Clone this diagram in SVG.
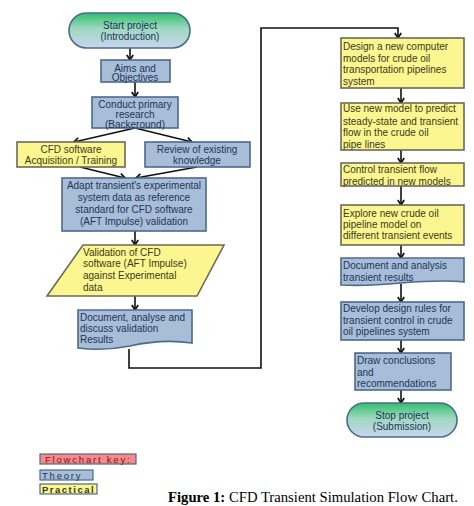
<svg xmlns="http://www.w3.org/2000/svg" width="474" height="506" viewBox="0 0 474 506">
<defs>
<linearGradient id="term" x1="0" y1="0" x2="0" y2="1">
<stop offset="0" stop-color="#2fbf6c"/>
<stop offset="0.45" stop-color="#9fd8c0"/>
<stop offset="1" stop-color="#c8d6ee"/>
</linearGradient>
<marker id="ah" markerWidth="8" markerHeight="8" refX="6.5" refY="4" orient="auto" markerUnits="userSpaceOnUse" viewBox="0 0 8 8">
<path d="M1.5,0.8 L6.5,4 L1.5,7.2" fill="none" stroke="#111" stroke-width="1.7"/>
</marker>
</defs>
<style>
.th{fill:#a8bdd8;stroke:#4d6a8e;stroke-width:1.6}
.pr{fill:#fbf68f;stroke:#6a6a5a;stroke-width:1.6}
.tm{fill:url(#term);stroke:#4d6a8e;stroke-width:1.6}
text{font-family:"Liberation Sans",Arial,sans-serif;font-size:10px}
.tt{fill:#1d3558}
.tp{fill:#3b3a1a}
.c{text-anchor:middle}
.con{fill:none;stroke:#111;stroke-width:1.6}
.lg{font-size:9.5px;letter-spacing:1.8px}
.lgp{font-size:9.5px;letter-spacing:1.5px;font-weight:bold}
.cap{font-family:"Liberation Serif","Times New Roman",serif;font-size:14.7px;fill:#000}
</style>
<rect width="474" height="506" fill="#fff"/>

<g id="connectors">
<path class="con" d="M130,48 V60" marker-end="url(#ah)"/>
<path class="con" d="M135,82 V97" marker-end="url(#ah)"/>
<path class="con" d="M135,128 L74,142" marker-end="url(#ah)"/>
<path class="con" d="M135,128 L192,142" marker-end="url(#ah)"/>
<path class="con" d="M80,167 L125,178" marker-end="url(#ah)"/>
<path class="con" d="M197,167 L136,178" marker-end="url(#ah)"/>
<path class="con" d="M135,231 V245" marker-end="url(#ah)"/>
<path class="con" d="M135,296 V310" marker-end="url(#ah)"/>
<path class="con" d="M129,349 V368 H261 V28 H398 V38" marker-end="url(#ah)"/>
<path class="con" d="M401,88 V103" marker-end="url(#ah)"/>
<path class="con" d="M401,150 V163" marker-end="url(#ah)"/>
<path class="con" d="M401,186 V205" marker-end="url(#ah)"/>
<path class="con" d="M401,245 V258" marker-end="url(#ah)"/>
<path class="con" d="M401,284 V302" marker-end="url(#ah)"/>
<path class="con" d="M401,340 V353" marker-end="url(#ah)"/>
<path class="con" d="M401,390 V403" marker-end="url(#ah)"/>
</g>

<g id="start">
<rect class="tm" x="69" y="13" width="121" height="35" rx="17.5"/>
<text class="tt c" x="130" y="28.5">Start project</text>
<text class="tt c" x="130" y="39.5">(Introduction)</text>
</g>
<g id="aims">
<rect class="th" x="101" y="60" width="69" height="22"/>
<text class="tt c" x="135" y="71.5">Aims and</text>
<text class="tt c" x="135" y="81">Objectives</text>
</g>
<g id="conduct">
<rect class="th" x="92" y="97" width="86" height="31"/>
<text class="tt c" x="135" y="107.5">Conduct primary</text>
<text class="tt c" x="135" y="117.5">research</text>
<text class="tt c" x="135" y="128">(Backeround)</text>
</g>
<g id="cfd">
<rect class="pr" x="17" y="142" width="108" height="25"/>
<text class="tp c" x="71" y="152.5">CFD software</text>
<text class="tp c" x="71" y="163.5">Acquisition / Training</text>
</g>
<g id="review">
<rect class="th" x="145" y="142" width="105" height="25"/>
<text class="tt c" x="197" y="152.5">Review of existing</text>
<text class="tt c" x="197" y="163.5">knowledge</text>
</g>
<g id="adapt">
<rect class="th" x="62" y="178" width="144" height="53"/>
<text class="tt c" x="134" y="188.5">Adapt transient's experimental</text>
<text class="tt c" x="134" y="201">system data as reference</text>
<text class="tt c" x="134" y="213">standard for CFD software</text>
<text class="tt c" x="134" y="225">(AFT Impulse) validation</text>
</g>
<g id="validation">
<polygon class="pr" points="83,245 224,245 197,296 47,296"/>
<text class="tp" x="83" y="255.5">Validation of CFD</text>
<text class="tp" x="83" y="267">software (AFT Impulse)</text>
<text class="tp" x="83" y="279">against Experimental</text>
<text class="tp" x="83" y="290.5">data</text>
</g>
<g id="document1">
<path class="th" d="M78,310 H192 V343 C172,340 152,341 130,346 C110,350 94,350 78,348 Z"/>
<text class="tt" x="80" y="320.5">Document, analyse and</text>
<text class="tt" x="80" y="331.5">discuss validation</text>
<text class="tt" x="80" y="343">Results</text>
</g>

<g id="design">
<rect class="pr" x="341" y="38" width="123" height="50"/>
<text class="tp" x="343" y="49.5">Design a new computer</text>
<text class="tp" x="343" y="61.5">models for crude oil</text>
<text class="tp" x="343" y="72.5">transportation pipelines</text>
<text class="tp" x="343" y="84.5">system</text>
</g>
<g id="usemodel">
<rect class="pr" x="341" y="103" width="123" height="47"/>
<text class="tp" x="343" y="111.5">Use new model to predict</text>
<text class="tp" x="343" y="124.5">steady-state and transient</text>
<text class="tp" x="343" y="135.5">flow in the crude oil</text>
<text class="tp" x="343" y="147.5">pipe lines</text>
</g>
<g id="control">
<rect class="pr" x="341" y="163" width="123" height="23"/>
<text class="tp" x="343" y="172.5">Control transient flow</text>
<text class="tp" x="343" y="184.5">predicted in new models</text>
</g>
<g id="explore">
<rect class="pr" x="341" y="205" width="123" height="40"/>
<text class="tp" x="343" y="216.5">Explore new crude oil</text>
<text class="tp" x="343" y="227.5">pipeline model on</text>
<text class="tp" x="343" y="238.5">different transient events</text>
</g>
<g id="document2">
<path class="th" d="M341,258 H464 V282 C446,280 426,281 401,283 C380,285 360,286 341,285 Z"/>
<text class="tt" x="343" y="268.5">Document and analysis</text>
<text class="tt" x="343" y="280.5">transient results</text>
</g>
<g id="develop">
<rect class="th" x="341" y="302" width="123" height="38"/>
<text class="tt" x="343" y="311.5">Develop design rules for</text>
<text class="tt" x="343" y="323.5">transient control in crude</text>
<text class="tt" x="343" y="334.5">oil pipelines system</text>
</g>
<g id="draw">
<rect class="th" x="355" y="353" width="96" height="37"/>
<text class="tt" x="357" y="363.5">Draw conclusions</text>
<text class="tt" x="357" y="375.5">and</text>
<text class="tt" x="357" y="386.5">recommendations</text>
</g>
<g id="stop">
<rect class="tm" x="347" y="403" width="110" height="34" rx="17"/>
<text class="tt c" x="402" y="418.5">Stop project</text>
<text class="tt c" x="402" y="429.5">(Submission)</text>
</g>

<g id="legend">
<rect x="40" y="454" width="96" height="10" fill="#f48a8a" stroke="#4d6a8e" stroke-width="1.2"/>
<text class="lg" x="45" y="462.5" fill="#8a1010">Flowchart key:</text>
<rect x="40" y="470" width="53" height="10" fill="#a8bdd8" stroke="#4d6a8e" stroke-width="1.2"/>
<text class="lg tt" x="42" y="478.5">Theory</text>
<rect x="40" y="484" width="57" height="10" fill="#fbf68f" stroke="#4d6a8e" stroke-width="1.2"/>
<text class="lgp tp" x="42" y="492.5">Practical</text>
</g>

<g id="caption">
<text class="cap" x="168" y="502"><tspan font-weight="bold">Figure 1:</tspan> CFD Transient Simulation Flow Chart.</text>
</g>
</svg>
